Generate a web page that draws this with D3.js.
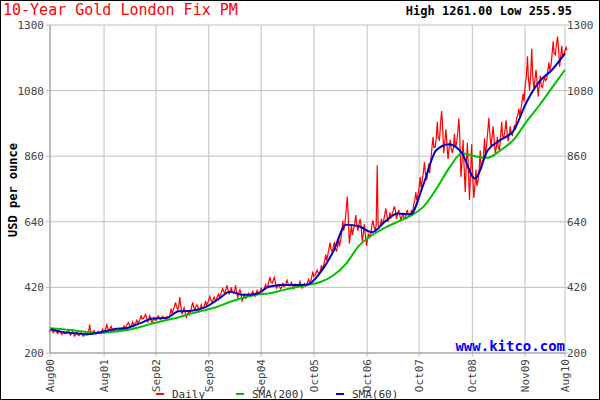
<!DOCTYPE html><html><head><meta charset="utf-8">
<script src="https://d3js.org/d3.v7.min.js"></script>
<style>body{margin:0;background:#fff}</style></head><body><svg id="c" width="600" height="400"></svg>
<script>
const closeM=[275,273,270,265,272,
265,262,263,260,272,270,268,273,283,283,276,276,
282,296,294,302,314,322,314,310,319,317,319,333,
357,359,340,328,355,356,351,360,379,379,389,407,
414,405,406,403,383,392,398,400,405,420,439,442,
424,423,434,429,422,430,424,437,456,470,476,510,
549,555,557,610,676,596,633,632,598,585,627,629,
631,664,655,679,667,655,665,665,712,754,806,803,
889,922,968,909,888,889,939,839,829,806,760,816,
858,943,924,890,928,945,934,949,996,1043,1127,1135,
1118,1095,1113,1148,1205,1233,1193,1215];
const highM=[280,277,274,270,275,
272,268,268,265,295,275,272,280,295,290,282,280,
290,302,304,310,327,330,325,318,325,323,322,349,
370,388,352,338,370,362,362,375,390,388,398,416,
427,420,428,412,394,400,407,410,418,430,455,454,
429,436,444,437,430,440,432,447,473,478,495,530,
570,572,585,644,725,630,663,650,632,600,645,830,
650,685,672,692,680,670,680,680,740,790,840,835,
925,975,1011,950,915,935,986,915,905,900,815,880,
920,989,960,925,975,980,960,965,1020,1070,1195,1220,
1150,1130,1125,1175,1245,1261,1230,1225];
const lowM=[270,268,265,262,265,
260,256,258,256,262,265,265,265,272,277,272,272,
278,290,288,298,306,316,302,302,310,312,315,320,
345,345,330,320,338,346,342,352,368,370,380,395,
400,398,400,385,375,385,390,390,397,410,425,434,
418,415,426,425,416,422,418,426,440,460,466,495,
530,538,540,580,640,567,615,610,575,560,600,610,
620,645,640,665,650,645,650,660,698,730,780,780,
850,890,915,870,850,870,905,790,740,712,720,780,
830,900,890,870,880,925,910,930,990,1020,1100,1080,
1085,1060,1090,1120,1165,1200,1160,1200];
const sma60=[280,270,266,263,270,280,284,300,316,317,340,342,352,378,405,395,398,422,428,428,430,470,540,630,625,605,640,668,665,765,880,900,870,785,880,915,945,1040,1110,1150,1205];
const sma200=[283,280,275,270,268,272,277,287,300,310,320,333,343,355,372,385,395,400,410,420,428,438,460,500,560,595,620,640,660,690,750,820,870,860,855,880,915,975,1030,1090,1150];
const tickLabels=["Aug00","Aug01","Sep02","Sep03","Sep04","Oct05","Oct06","Oct07","Oct08","Nov09","Aug10"];
const tickMonths=[0,12.6,24.7,37,49.2,61.5,73.9,86,98.4,110.7,120];
const yTicks=[200,420,640,860,1080,1300];

const svg=d3.select("#c");
const F="DejaVu Sans Mono";
svg.append("rect").attr("x",0.5).attr("y",0.5).attr("width",599).attr("height",399).attr("fill","#fff").attr("stroke","#000");
const x=d3.scaleLinear().domain([0,120]).range([50,565]);
const y=d3.scaleLinear().domain([200,1300]).range([353,25]);
const g=svg.append("g");
tickMonths.forEach(m=>g.append("line").attr("x1",x(m)).attr("x2",x(m)).attr("y1",25).attr("y2",357).attr("stroke","#c0c0c0"));
yTicks.forEach(v=>g.append("line").attr("x1",46).attr("x2",569).attr("y1",y(v)).attr("y2",y(v)).attr("stroke","#c0c0c0"));
yTicks.forEach(v=>{
 g.append("text").attr("x",44).attr("y",y(v)+4).attr("text-anchor","end").attr("font-family",F).attr("font-size",11).attr("fill","#444").text(v);
 g.append("text").attr("x",567).attr("y",y(v)+4).attr("font-family",F).attr("font-size",11).attr("fill","#444").text(v);
});
tickMonths.forEach((m,i)=>g.append("text").attr("transform",`translate(${x(m)+4},359) rotate(-90)`).attr("text-anchor","end").attr("font-family",F).attr("font-size",11).attr("fill","#444").text(tickLabels[i]));
const pts=[];
closeM.forEach((c,i)=>{pts.push([i-0.25,lowM[i]]);pts.push([i,c]);pts.push([i+0.25,highM[i]]);pts.push([i+0.45,c]);});
const line=d3.line().x(d=>x(d[0])).y(d=>y(d[1]));
g.append("path").datum(pts).attr("d",line).attr("fill","none").attr("stroke","#ff0000").attr("stroke-width",1.2);
g.append("path").datum(sma200.map((v,i)=>[i*3,v])).attr("d",d3.line().x(d=>x(d[0])).y(d=>y(d[1])).curve(d3.curveMonotoneX)).attr("fill","none").attr("stroke","#00c000").attr("stroke-width",2);
g.append("path").datum(sma60.map((v,i)=>[i*3,v])).attr("d",d3.line().x(d=>x(d[0])).y(d=>y(d[1])).curve(d3.curveMonotoneX)).attr("fill","none").attr("stroke","#0000c0").attr("stroke-width",2);
g.append("line").attr("x1",50).attr("x2",50).attr("y1",25).attr("y2",353).attr("stroke","#999");
g.append("line").attr("x1",50).attr("x2",565).attr("y1",353).attr("y2",353).attr("stroke","#999");
svg.append("text").attr("x",3).attr("y",15).attr("font-family",F).attr("font-size",15).attr("fill","#ff0000").text("10-Year Gold London Fix PM");
svg.append("text").attr("x",572).attr("y",15).attr("text-anchor","end").attr("font-family",F).attr("font-weight","bold").attr("font-size",12).text("High 1261.00 Low 255.95");
svg.append("text").attr("transform","translate(17,190) rotate(-90)").attr("text-anchor","middle").attr("font-family",F).attr("font-weight","bold").attr("font-size",12).text("USD per ounce");
svg.append("text").attr("x",565).attr("y",351).attr("text-anchor","end").attr("font-family",F).attr("font-weight","bold").attr("font-size",14).attr("fill","#0000ff").text("www.kitco.com");
[["Daily","#ff0000",156],["SMA(200)","#00c000",236],["SMA(60)","#0000ff",336]].forEach(l=>{
 svg.append("line").attr("x1",l[2]).attr("x2",l[2]+8).attr("y1",394).attr("y2",394).attr("stroke",l[1]).attr("stroke-width",2);
 svg.append("text").attr("x",l[2]+16).attr("y",398).attr("font-family",F).attr("font-size",11).attr("fill","#333").text(l[0]);
});
</script></body></html>
